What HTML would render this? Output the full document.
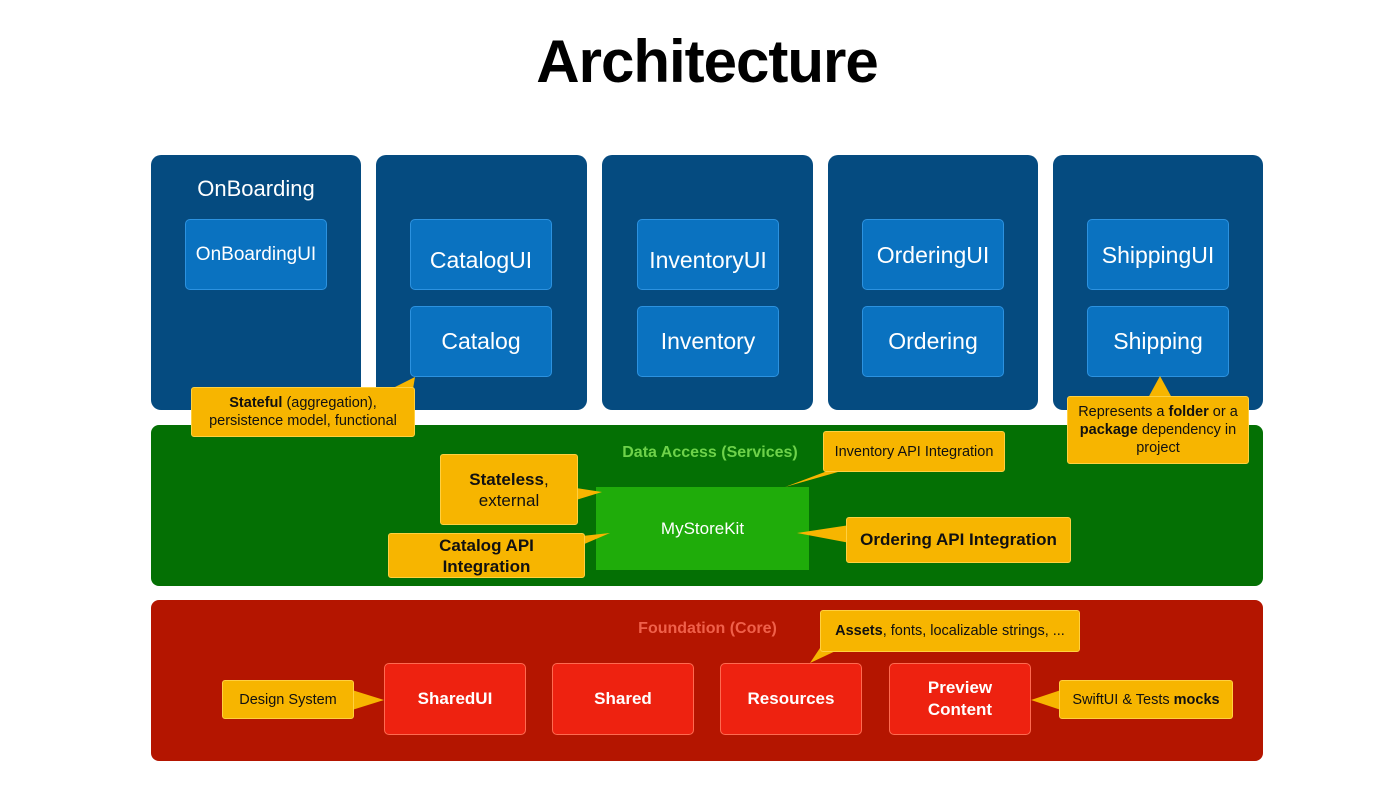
<!DOCTYPE html>
<html><head><meta charset="utf-8"><style>
*{margin:0;padding:0;box-sizing:border-box}
body{width:1400px;height:788px;background:#fff;position:relative;overflow:hidden;font-family:"Liberation Sans",sans-serif}
.a{position:absolute}
.col{position:absolute;top:155px;height:255px;background:#054b80;border-radius:10px}
.ib{position:absolute;background:#0a72c0;border:1.5px solid #2c92e0;border-radius:5px;color:#fff;display:flex;align-items:center;justify-content:center;font-size:23px}
.rb{position:absolute;top:663px;width:142px;height:72px;background:#ee2210;border:1.5px solid #ff6a50;border-radius:5px;color:#fff;display:flex;align-items:center;justify-content:center;text-align:center;font-weight:bold;font-size:17px;line-height:22px}
.co{position:absolute;background:#f7b500;border:1px solid #ffd040;border-radius:3px;color:#111;display:flex;align-items:center;justify-content:center;text-align:center;font-size:14.5px;line-height:18px}
</style></head><body>
<div class="a" style="left:0;width:1414px;top:27px;text-align:center;font-weight:bold;font-size:60px;letter-spacing:-1px;color:#000">Architecture</div>

<div class="col" style="left:151px;width:210px"></div>
<div class="col" style="left:376px;width:211px"></div>
<div class="col" style="left:602px;width:211px"></div>
<div class="col" style="left:828px;width:210px"></div>
<div class="col" style="left:1053px;width:210px"></div>
<div class="a" style="left:151px;width:210px;top:176px;text-align:center;color:#fff;font-size:22px">OnBoarding</div>

<div class="ib" style="left:185px;top:219px;width:142px;height:71px;font-size:19px;align-items:flex-start;padding-top:24px">OnBoardingUI</div>
<div class="ib" style="left:410px;top:219px;width:142px;height:71px;padding-top:12px">CatalogUI</div>
<div class="ib" style="left:410px;top:306px;width:142px;height:71px">Catalog</div>
<div class="ib" style="left:637px;top:219px;width:142px;height:71px;padding-top:12px">InventoryUI</div>
<div class="ib" style="left:637px;top:306px;width:142px;height:71px">Inventory</div>
<div class="ib" style="left:862px;top:219px;width:142px;height:71px;align-items:flex-start;padding-top:22px">OrderingUI</div>
<div class="ib" style="left:862px;top:306px;width:142px;height:71px">Ordering</div>
<div class="ib" style="left:1087px;top:219px;width:142px;height:71px;align-items:flex-start;padding-top:22px">ShippingUI</div>
<div class="ib" style="left:1087px;top:306px;width:142px;height:71px">Shipping</div>

<div class="a" style="left:151px;top:425px;width:1112px;height:161px;background:#047004;border-radius:8px"></div>
<div class="a" style="left:560px;top:444px;width:300px;text-align:center;color:#6ed24a;font-weight:bold;font-size:16px">Data Access (Services)</div>
<div class="a" style="left:596px;top:487px;width:213px;height:83px;background:#1fac0a;color:#fff;font-size:17px;display:flex;align-items:center;justify-content:center">MyStoreKit</div>

<div class="a" style="left:151px;top:600px;width:1112px;height:161px;background:#b41500;border-radius:8px"></div>
<div class="a" style="left:560px;top:620px;width:295px;text-align:center;color:#f0604a;font-weight:bold;font-size:16px">Foundation (Core)</div>
<div class="rb" style="left:384px">SharedUI</div>
<div class="rb" style="left:552px">Shared</div>
<div class="rb" style="left:720px">Resources</div>
<div class="rb" style="left:889px">Preview<br>Content</div>

<svg class="a" style="left:0;top:0" width="1400" height="788">
<g fill="#f7b500">
<polygon points="385,392 415,377 412,395"/>
<polygon points="576,488 602,492 576,500"/>
<polygon points="582,536 610,533 582,545"/>
<polygon points="830,470 785,487 845,470"/>
<polygon points="850,525 797,533 850,543"/>
<polygon points="1148,398 1160,376 1172,398"/>
<polygon points="820,648 810,663 842,648"/>
<polygon points="352,690 384,700 352,710"/>
<polygon points="1061,690 1031,700 1061,710"/>
</g></svg>

<div class="co" style="left:191px;top:387px;width:224px;height:50px;font-size:14.5px"><span><b>Stateful</b> (aggregation),<br>persistence model, functional</span></div>
<div class="co" style="left:440px;top:454px;width:138px;height:71px;font-size:17px;line-height:21px"><span><b>Stateless</b>,<br>external</span></div>
<div class="co" style="left:388px;top:533px;width:197px;height:45px;font-size:17px;line-height:21px;font-weight:bold">Catalog API<br>Integration</div>
<div class="co" style="left:823px;top:431px;width:182px;height:41px">Inventory API Integration</div>
<div class="co" style="left:846px;top:517px;width:225px;height:46px;font-size:17px;font-weight:bold">Ordering API Integration</div>
<div class="co" style="left:1067px;top:396px;width:182px;height:68px"><span>Represents a <b>folder</b> or a<br><b>package</b> dependency in<br>project</span></div>
<div class="co" style="left:820px;top:610px;width:260px;height:42px"><span><b>Assets</b>, fonts, localizable strings, ...</span></div>
<div class="co" style="left:222px;top:680px;width:132px;height:39px">Design System</div>
<div class="co" style="left:1059px;top:680px;width:174px;height:39px"><span>SwiftUI &amp; Tests <b>mocks</b></span></div>
</body></html>
